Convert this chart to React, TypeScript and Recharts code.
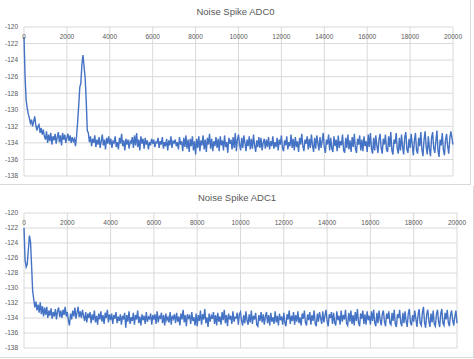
import React from 'react';
import { LineChart, Line, XAxis, YAxis, CartesianGrid } from 'recharts';

// FFT bins, 50 Hz apart, 0..20000 Hz
const FREQ = Array.from({ length: 401 }, (_, i) => i * 50);

const X_TICKS = [0, 2000, 4000, 6000, 8000, 10000, 12000, 14000, 16000, 18000, 20000];
const Y_TICKS = [-138, -136, -134, -132, -130, -128, -126, -124, -122, -120];

// dB values, one row per 1000 Hz
const ADC0 = [
  -121.2, -126.0, -128.8, -129.8, -130.5, -131.0, -131.6, -131.2, -132.0, -131.4, -130.8, -131.9, -132.5, -132.0, -131.8, -132.8, -132.2, -133.0, -132.4, -133.2,
  -133.6, -132.6, -134.0, -133.0, -133.8, -132.8, -134.2, -133.2, -133.7, -132.9, -134.1, -133.3, -132.7, -133.9, -133.1, -134.3, -132.8, -133.6, -133.0, -134.0,
  -133.4, -132.9, -133.8, -133.1, -134.0, -133.3, -133.8, -133.5, -134.4, -133.2, -131.5, -129.5, -127.3, -126.8, -124.5, -123.4, -124.8, -126.1, -128.8, -132.5,
  -132.8, -133.9, -133.2, -134.4, -133.5, -134.0, -133.1, -134.5, -133.6, -134.2, -133.3, -134.6, -133.8, -133.0, -134.3, -133.6, -134.8, -133.4, -134.1, -133.2,
  -134.2, -133.5, -134.6, -133.8, -134.0, -133.2, -134.5, -133.9, -134.8, -133.4, -134.1, -132.9, -134.4, -133.7, -134.9, -133.5, -134.2, -133.6, -134.7, -133.8,
  -134.0, -133.3, -134.6, -133.1, -134.3, -132.8, -134.5, -133.6, -134.9, -133.2, -134.1, -133.5, -134.7, -133.4, -134.2, -133.7, -134.8, -133.9, -134.3, -133.5,
  -134.1, -133.6, -134.5, -133.9, -134.0, -133.4, -134.6, -133.8, -134.2, -133.3, -134.7, -133.9, -134.4, -133.5, -134.9, -133.7, -134.3, -133.2, -134.6, -133.8,
  -134.0, -133.6, -134.4, -133.9, -134.8, -133.3, -134.2, -133.8, -135.0, -133.4, -134.5, -133.1, -134.7, -133.6, -135.1, -133.5, -134.4, -133.2, -134.9, -133.8,
  -135.4, -133.5, -134.6, -133.2, -135.0, -133.7, -134.3, -133.1, -134.8, -133.6, -135.1, -133.4, -134.2, -132.9, -134.7, -133.5, -135.0, -133.8, -134.4, -133.3,
  -134.6, -133.5, -135.0, -133.2, -134.3, -133.7, -134.9, -133.1, -134.5, -133.9, -135.2, -133.4, -134.1, -133.6, -134.8, -133.3, -134.6, -132.8, -135.0, -133.6,
  -133.0, -134.2, -134.9, -133.4, -134.6, -133.1, -134.0, -135.0, -133.6, -134.4, -133.2, -134.8, -133.5, -134.7, -133.0, -134.3, -135.1, -133.7, -134.5, -133.3,
  -134.6, -133.4, -134.9, -134.0, -133.5, -134.7, -133.6, -134.5, -133.3, -134.8, -133.8, -134.4, -133.2, -134.7, -133.9, -134.5, -133.4, -134.9, -133.6, -134.2,
  -133.1, -134.6, -135.0, -133.7, -134.3, -133.2, -134.8, -133.9, -134.4, -133.0, -134.6, -133.5, -134.9, -133.3, -134.5, -133.8, -135.1, -133.4, -134.2, -132.9,
  -134.4, -135.0, -133.6, -134.1, -133.2, -134.8, -133.5, -134.6, -133.0, -134.3, -135.1, -133.4, -134.7, -133.1, -134.0, -134.9, -133.3, -134.6, -133.8, -132.8,
  -134.5, -135.2, -133.6, -134.2, -133.0, -134.9, -133.4, -134.7, -135.1, -133.2, -134.4, -133.6, -135.0, -133.1, -134.6, -133.8, -134.3, -133.0, -134.9, -135.2,
  -133.4, -134.6, -133.0, -134.8, -133.7, -135.1, -133.3, -134.5, -132.9, -134.7, -135.2, -133.5, -134.2, -133.1, -134.9, -133.6, -135.0, -133.2, -134.4, -133.8,
  -135.1, -133.0, -134.5, -132.8, -134.7, -135.3, -133.4, -134.9, -133.1, -134.3, -135.2, -133.6, -132.9, -134.6, -135.3, -133.5, -134.2, -133.0, -134.8, -135.1,
  -133.2, -134.5, -132.7, -134.9, -135.4, -133.6, -134.1, -132.8, -134.7, -135.3, -133.4, -134.9, -133.0, -134.5, -135.4, -133.3, -132.7, -134.8, -135.2, -133.5,
  -134.6, -132.9, -134.2, -135.5, -133.7, -132.8, -134.9, -135.3, -133.4, -134.4, -132.7, -134.8, -135.6, -133.6, -132.6, -134.5, -135.4, -133.2, -134.7, -135.6,
  -133.4, -132.7, -134.6, -135.2, -133.8, -132.5, -134.9, -135.7, -133.6, -134.3, -132.8, -134.8, -135.5, -133.7, -132.9, -134.4, -135.3, -133.5, -132.6, -133.4,
  -134.2,
];

const ADC1 = [
  -122.0, -126.3, -127.2, -126.8, -125.0, -123.0, -123.8, -127.0, -130.4, -131.5, -132.6, -131.8, -133.0, -132.2, -133.3, -131.9, -133.5, -132.4, -133.8, -132.6,
  -133.6, -132.5, -134.0, -133.0, -133.7, -132.7, -134.1, -133.2, -133.8, -132.8, -134.2, -133.1, -132.6, -133.9, -133.0, -134.0, -132.9, -133.6, -132.5, -133.8,
  -133.2, -134.3, -135.0, -133.4, -134.2, -133.0, -133.8, -132.6, -134.1, -133.3, -132.5, -133.9, -133.1, -134.0, -132.9, -133.7, -134.4, -133.2, -134.6, -133.4,
  -134.0, -133.2, -134.7, -133.5, -134.3, -133.0, -134.6, -133.7, -134.9, -133.4, -134.2, -133.1, -134.5, -133.6, -134.8, -133.3, -134.0, -132.9, -134.6, -133.5,
  -134.3, -133.4, -134.8, -133.6, -134.1, -133.2, -134.7, -133.8, -134.4, -133.5, -134.9, -133.7, -134.2, -133.3, -135.3, -133.6, -134.5, -133.1, -134.8, -133.9,
  -134.4, -133.3, -134.9, -133.6, -134.2, -133.0, -134.7, -133.8, -135.0, -133.5, -134.3, -133.7, -134.8, -133.2, -134.5, -133.9, -134.1, -133.4, -134.9, -133.6,
  -134.2, -133.5, -134.8, -133.1, -134.6, -133.8, -134.0, -133.3, -134.7, -133.6, -135.0, -133.4, -134.3, -133.9, -134.6, -133.2, -134.9, -133.7, -134.1, -133.5,
  -134.7, -133.3, -134.5, -133.8, -135.0, -133.4, -134.2, -132.9, -134.6, -133.6, -135.1, -133.5, -134.0, -133.7, -134.8, -133.2, -134.4, -133.9, -135.0, -133.4,
  -135.1, -133.6, -134.4, -133.0, -134.9, -133.5, -134.2, -132.8, -134.7, -133.9, -135.2, -133.4, -134.5, -133.7, -134.1, -133.2, -134.8, -133.6, -135.0, -133.3,
  -134.5, -133.8, -134.9, -133.2, -134.3, -132.9, -134.7, -133.6, -135.1, -133.4, -134.2, -133.7, -134.8, -133.1, -134.5, -133.9, -134.0, -133.3, -134.9, -133.5,
  -133.2, -134.4, -135.0, -133.6, -134.7, -133.1, -134.3, -134.9, -133.5, -134.6, -133.0, -134.8, -133.7, -134.2, -133.3, -134.9, -135.1, -133.6, -134.4, -133.2,
  -134.6, -133.5, -134.9, -133.8, -133.2, -134.7, -133.6, -135.0, -133.3, -134.5, -133.9, -134.8, -133.1, -134.6, -133.7, -135.0, -133.4, -134.3, -133.8, -134.9,
  -133.3, -134.6, -135.1, -133.5, -134.2, -133.0, -134.8, -133.7, -134.4, -133.2, -134.9, -133.6, -134.5, -133.1, -134.7, -133.9, -135.0, -133.4, -134.1, -133.0,
  -134.6, -135.0, -133.5, -134.3, -133.2, -134.9, -133.6, -134.4, -133.0, -134.7, -135.1, -133.4, -134.5, -133.2, -134.0, -134.8, -133.1, -134.6, -133.7, -132.9,
  -134.4, -135.1, -133.5, -134.0, -133.2, -134.8, -133.3, -134.6, -135.0, -133.1, -134.3, -133.7, -134.9, -133.0, -134.5, -133.6, -134.2, -132.9, -134.7, -135.0,
  -133.3, -134.5, -133.0, -134.8, -133.6, -135.0, -133.2, -134.4, -132.8, -134.6, -135.1, -133.4, -134.1, -133.0, -134.8, -133.5, -134.9, -133.1, -134.3, -133.7,
  -134.9, -133.1, -134.4, -132.9, -134.6, -135.1, -133.3, -134.7, -133.0, -134.2, -135.0, -133.5, -133.0, -134.5, -135.1, -133.4, -134.1, -133.1, -134.7, -134.9,
  -133.3, -134.4, -132.9, -134.8, -135.2, -133.5, -134.0, -132.9, -134.6, -135.1, -133.3, -134.7, -133.1, -134.4, -135.2, -133.4, -132.8, -134.6, -135.0, -133.6,
  -134.5, -133.0, -134.1, -135.2, -133.6, -132.8, -134.7, -135.0, -133.3, -132.5, -134.6, -135.3, -133.5, -132.9, -134.4, -135.2, -133.4, -134.6, -133.0, -134.8,
  -135.1, -133.5, -132.9, -134.5, -135.2, -133.4, -132.8, -134.7, -135.0, -133.3, -134.2, -132.9, -134.6, -135.1, -133.6, -133.0, -134.3, -135.0, -133.8, -133.0,
  -134.7,
];

const FONT = "'Liberation Sans', Arial, sans-serif";
const TEXT = '#595959';
const GRID = '#d9d9d9';
const BLUE = '#4472C4';

// x labels sit inside the plot, just under the -120 gridline
const TopTick = (props: any) => {
  const { x, y, payload } = props;
  return (
    <text x={x} y={y + 12} textAnchor="middle" fill={TEXT} stroke="none" fontSize={6.5} fontFamily={FONT}>
      {payload.value}
    </text>
  );
};

type PanelProps = {
  title: string;
  values: number[];
  top: number;
  width: number;
  height: number;
  right: number;
  bottom: number;
};

const Panel = ({ title, values, top, width, height, right, bottom }: PanelProps) => {
  const data = FREQ.map((f, i) => ({ f, v: values[i] }));
  return (
    <div
      style={{
        position: 'absolute',
        left: 0,
        top,
        width,
        height,
        borderRight: `1px solid ${GRID}`,
        borderBottom: `1px solid ${GRID}`,
        boxSizing: 'border-box',
        background: '#fff',
      }}
    >
      <div
        style={{
          position: 'absolute',
          top: 6,
          left: 0,
          width: width,
          textAlign: 'center',
          fontFamily: FONT,
          fontSize: 9.5,
          color: TEXT,
          lineHeight: '12px',
        }}
      >
        {title}
      </div>
      <LineChart width={width - 1} height={height - 1} data={data} margin={{ top: 26, right, bottom, left: 0 }}>
        <CartesianGrid stroke={GRID} strokeWidth={1} />
        <XAxis
          dataKey="f"
          type="number"
          domain={[0, 20000]}
          ticks={X_TICKS}
          orientation="top"
          height={1}
          axisLine={false}
          tickLine={false}
          tickSize={0}
          tickMargin={0}
          interval={0}
          tick={<TopTick />}
        />
        <YAxis
          type="number"
          domain={[-138, -120]}
          ticks={Y_TICKS}
          width={24}
          axisLine={false}
          tickLine={false}
          tickSize={0}
          tickMargin={6}
          interval={0}
          tick={{ fill: TEXT, fontSize: 6.5, fontFamily: FONT }}
        />
        <Line
          type="linear"
          dataKey="v"
          stroke={BLUE}
          strokeWidth={1.4}
          dot={false}
          isAnimationActive={false}
        />
      </LineChart>
    </div>
  );
};

export default function App() {
  return (
    <div style={{ position: 'relative', width: 474, height: 359, background: '#fff', overflow: 'hidden' }}>
      <style>{'body{margin:0}'}</style>
      <Panel title="Noise Spike ADC0" values={ADC0} top={0} width={471} height={185} right={17} bottom={8} />
      <Panel title="Noise Spike ADC1" values={ADC1} top={186} width={474} height={172} right={16} bottom={9} />
    </div>
  );
}
